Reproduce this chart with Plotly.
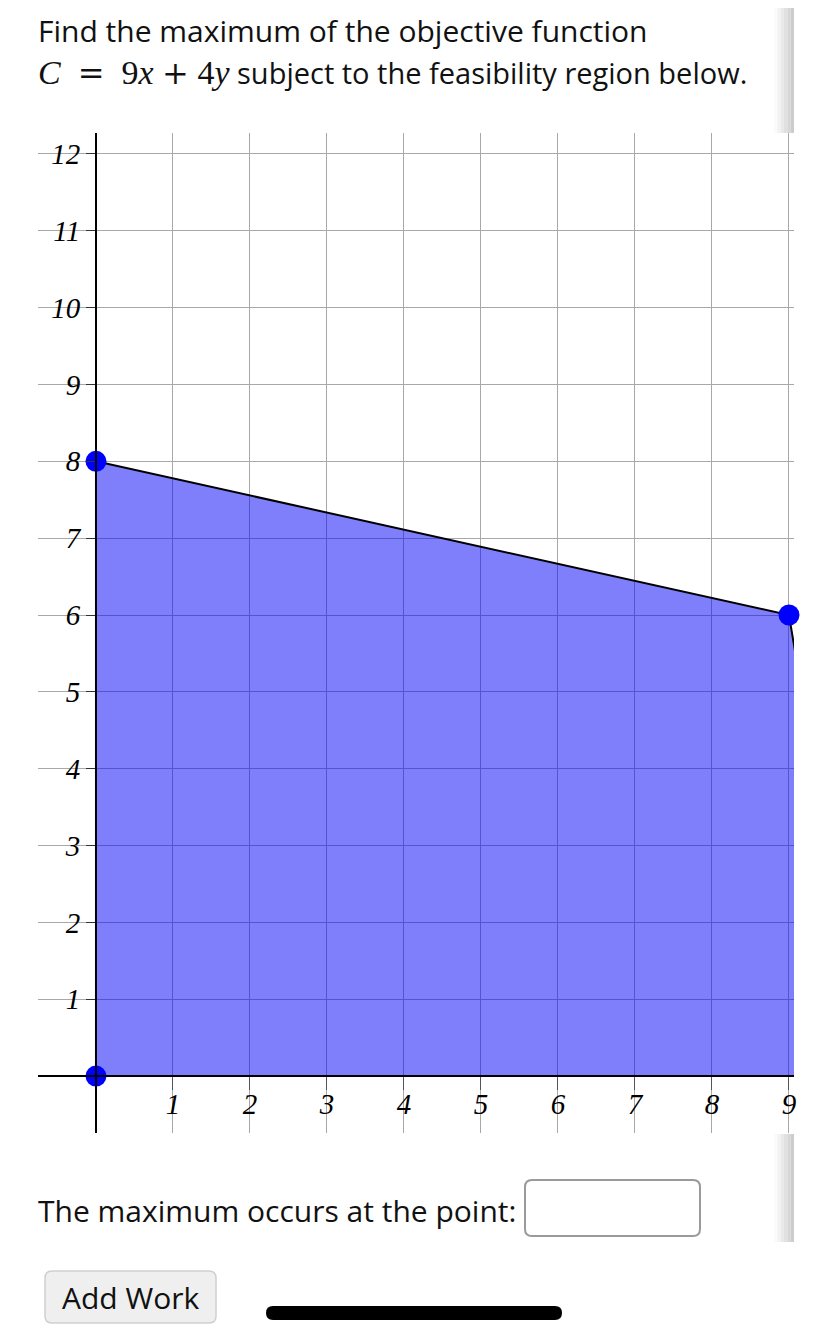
import plotly.graph_objects as go

# ---- data ----
region_x = [0, 0, 9, 10, 0]
region_y = [0, 8, 6, 0, 0]
vertex_x = [0, 0, 9]
vertex_y = [0, 8, 6]
x_ticks = [1, 2, 3, 4, 5, 6, 7, 8, 9]
y_ticks = [1, 2, 3, 4, 5, 6, 7, 8, 9, 10, 11, 12]
x_labels = [str(v) for v in x_ticks]
y_labels = [str(v) for v in y_ticks]

EN = "&#8194;"
TS = "&nbsp;"
MI = "font-family:Liberation Serif;font-style:italic;font-size:34px"
MR = "font-family:Liberation Serif;font-size:34px"
MO = "font-family:DejaVu Serif;font-size:32px"
title_line1 = "Find the maximum of the objective function"
title_line2_math = (f"<span style='{MI}'>C</span>"
                    f"<span style='{MR}'>{EN}</span><span style='{MO}'>=</span>"
                    f"<span style='{MR}'>{EN}9</span>"
                    f"<span style='{MI}'>x</span>"
                    f"<span style='{MR}'>{TS}</span><span style='{MO}'>+</span>"
                    f"<span style='{MR}'>{TS}4</span>"
                    f"<span style='{MI}'>y</span>")
title_line2_text = " subject to the feasibility region below."
answer_prompt = "The maximum occurs at the point:"
button_text = "Add Work"

# ---- layout geometry (pixels, page coordinates; figure sits at 8px body offset) ----
OFF = 8
W_PX, H_PX = 812, 1320
L, R, T, B = 38, 794, 133, 1133
XR = [-0.753, 9.065]
YR = [-0.741, 12.273]


def px(X):
    return (X - L) / (R - L)


def py(Y):
    return (B - Y) / (B - T)


def rrect(x0, y0, x1, y1, r):
    rx = r / (R - L)
    ry = r / (B - T)
    a, b, c, d = px(x0), py(y0), px(x1), py(y1)  # b top, d bottom
    return (f"M {a+rx},{b} L {c-rx},{b} Q {c},{b} {c},{b-ry} "
            f"L {c},{d+ry} Q {c},{d} {c-rx},{d} L {a+rx},{d} "
            f"Q {a},{d} {a},{d+ry} L {a},{b-ry} Q {a},{b} {a+rx},{b} Z")


fig = go.Figure()
fig.add_trace(go.Scatter(
    x=region_x, y=region_y, mode="lines", fill="toself",
    fillcolor="rgba(0,0,250,0.5)", line=dict(color="black", width=2),
    hoverinfo="skip", showlegend=False))
fig.add_trace(go.Scatter(
    x=vertex_x, y=vertex_y, mode="markers",
    marker=dict(color="#0000ff", size=21), cliponaxis=False, showlegend=False))

x_pos = (0 - YR[0]) / (YR[1] - YR[0])
y_pos = (0 - XR[0]) / (XR[1] - XR[0])

tickfont = dict(family="Liberation Serif", style="italic", size=29, color="black")
fig.update_layout(
    width=W_PX, height=H_PX,
    margin=dict(l=L - OFF, r=W_PX - (R - OFF), t=T - OFF, b=H_PX - (B - OFF), pad=0),
    plot_bgcolor="white", paper_bgcolor="white",
    showlegend=False,
    xaxis=dict(range=XR, anchor="free", position=x_pos, showline=True,
               linecolor="black", linewidth=2, zeroline=False,
               showgrid=True, gridcolor="#a8a8a8", gridwidth=1,
               tickmode="array", tickvals=x_ticks, ticktext=x_labels,
               ticks="outside", ticklen=13, tickcolor="#555", tickwidth=1,
               ticklabelstandoff=-11,
               tickfont=tickfont, fixedrange=True),
    yaxis=dict(range=YR, anchor="free", position=y_pos, showline=True,
               linecolor="black", linewidth=2, zeroline=False,
               showgrid=True, gridcolor="#a8a8a8", gridwidth=1,
               tickmode="array", tickvals=y_ticks, ticktext=y_labels,
               ticks="outside", ticklen=9, tickcolor="#333", tickwidth=1,
               tickfont=tickfont, fixedrange=True, domain=[0, 1]),
)

txtfont = dict(family="Open Sans", size=30, color="#111")
annotations = [
    dict(text=title_line1, x=px(36), y=py(30), xref="paper", yref="paper",
         xanchor="left", yanchor="middle", showarrow=False, font=txtfont),
    dict(text=title_line2_math + title_line2_text, x=px(36), y=py(73),
         xref="paper", yref="paper", xanchor="left", yanchor="middle",
         showarrow=False, font=dict(family="Open Sans", size=29, color="#111")),
    dict(text=answer_prompt, x=px(36), y=py(1210), xref="paper", yref="paper",
         xanchor="left", yanchor="middle", showarrow=False, font=txtfont),
    dict(text=button_text, x=px(130.5), y=py(1297), xref="paper", yref="paper",
         xanchor="center", yanchor="middle", showarrow=False, font=txtfont),
]
fig.update_layout(annotations=annotations)

shapes = []
# scrollbar-like gradient strips
grays = ["#fbfbfb", "#f2f2f2", "#e9e9e9", "#e0e0e0", "#d6d6d6", "#cccccc"]
n = len(grays)
for i, g in enumerate(grays):
    xa = 774 + i * 20 / n
    xb = 774 + (i + 1) * 20 / n
    for (ya, yb) in [(6, 133), (1134, 1242)]:
        shapes.append(dict(type="rect", xref="paper", yref="paper",
                           x0=px(xa), x1=px(xb), y0=py(yb), y1=py(ya),
                           fillcolor=g, line=dict(width=0), layer="above"))
# input box
shapes.append(dict(type="path", xref="paper", yref="paper",
                   path=rrect(525, 1180, 700, 1236, 7),
                   fillcolor="white", line=dict(color="#9a9a9a", width=2)))
# Add Work button
shapes.append(dict(type="path", xref="paper", yref="paper",
                   path=rrect(45, 1271, 216, 1323, 7),
                   fillcolor="#efefef", line=dict(color="#cfcfcf", width=1.5)))
# home indicator bar
shapes.append(dict(type="path", xref="paper", yref="paper",
                   path=rrect(266, 1306, 562, 1320, 7),
                   fillcolor="black", line=dict(width=0)))
fig.update_layout(shapes=shapes)

fig.write_html("out.html")
